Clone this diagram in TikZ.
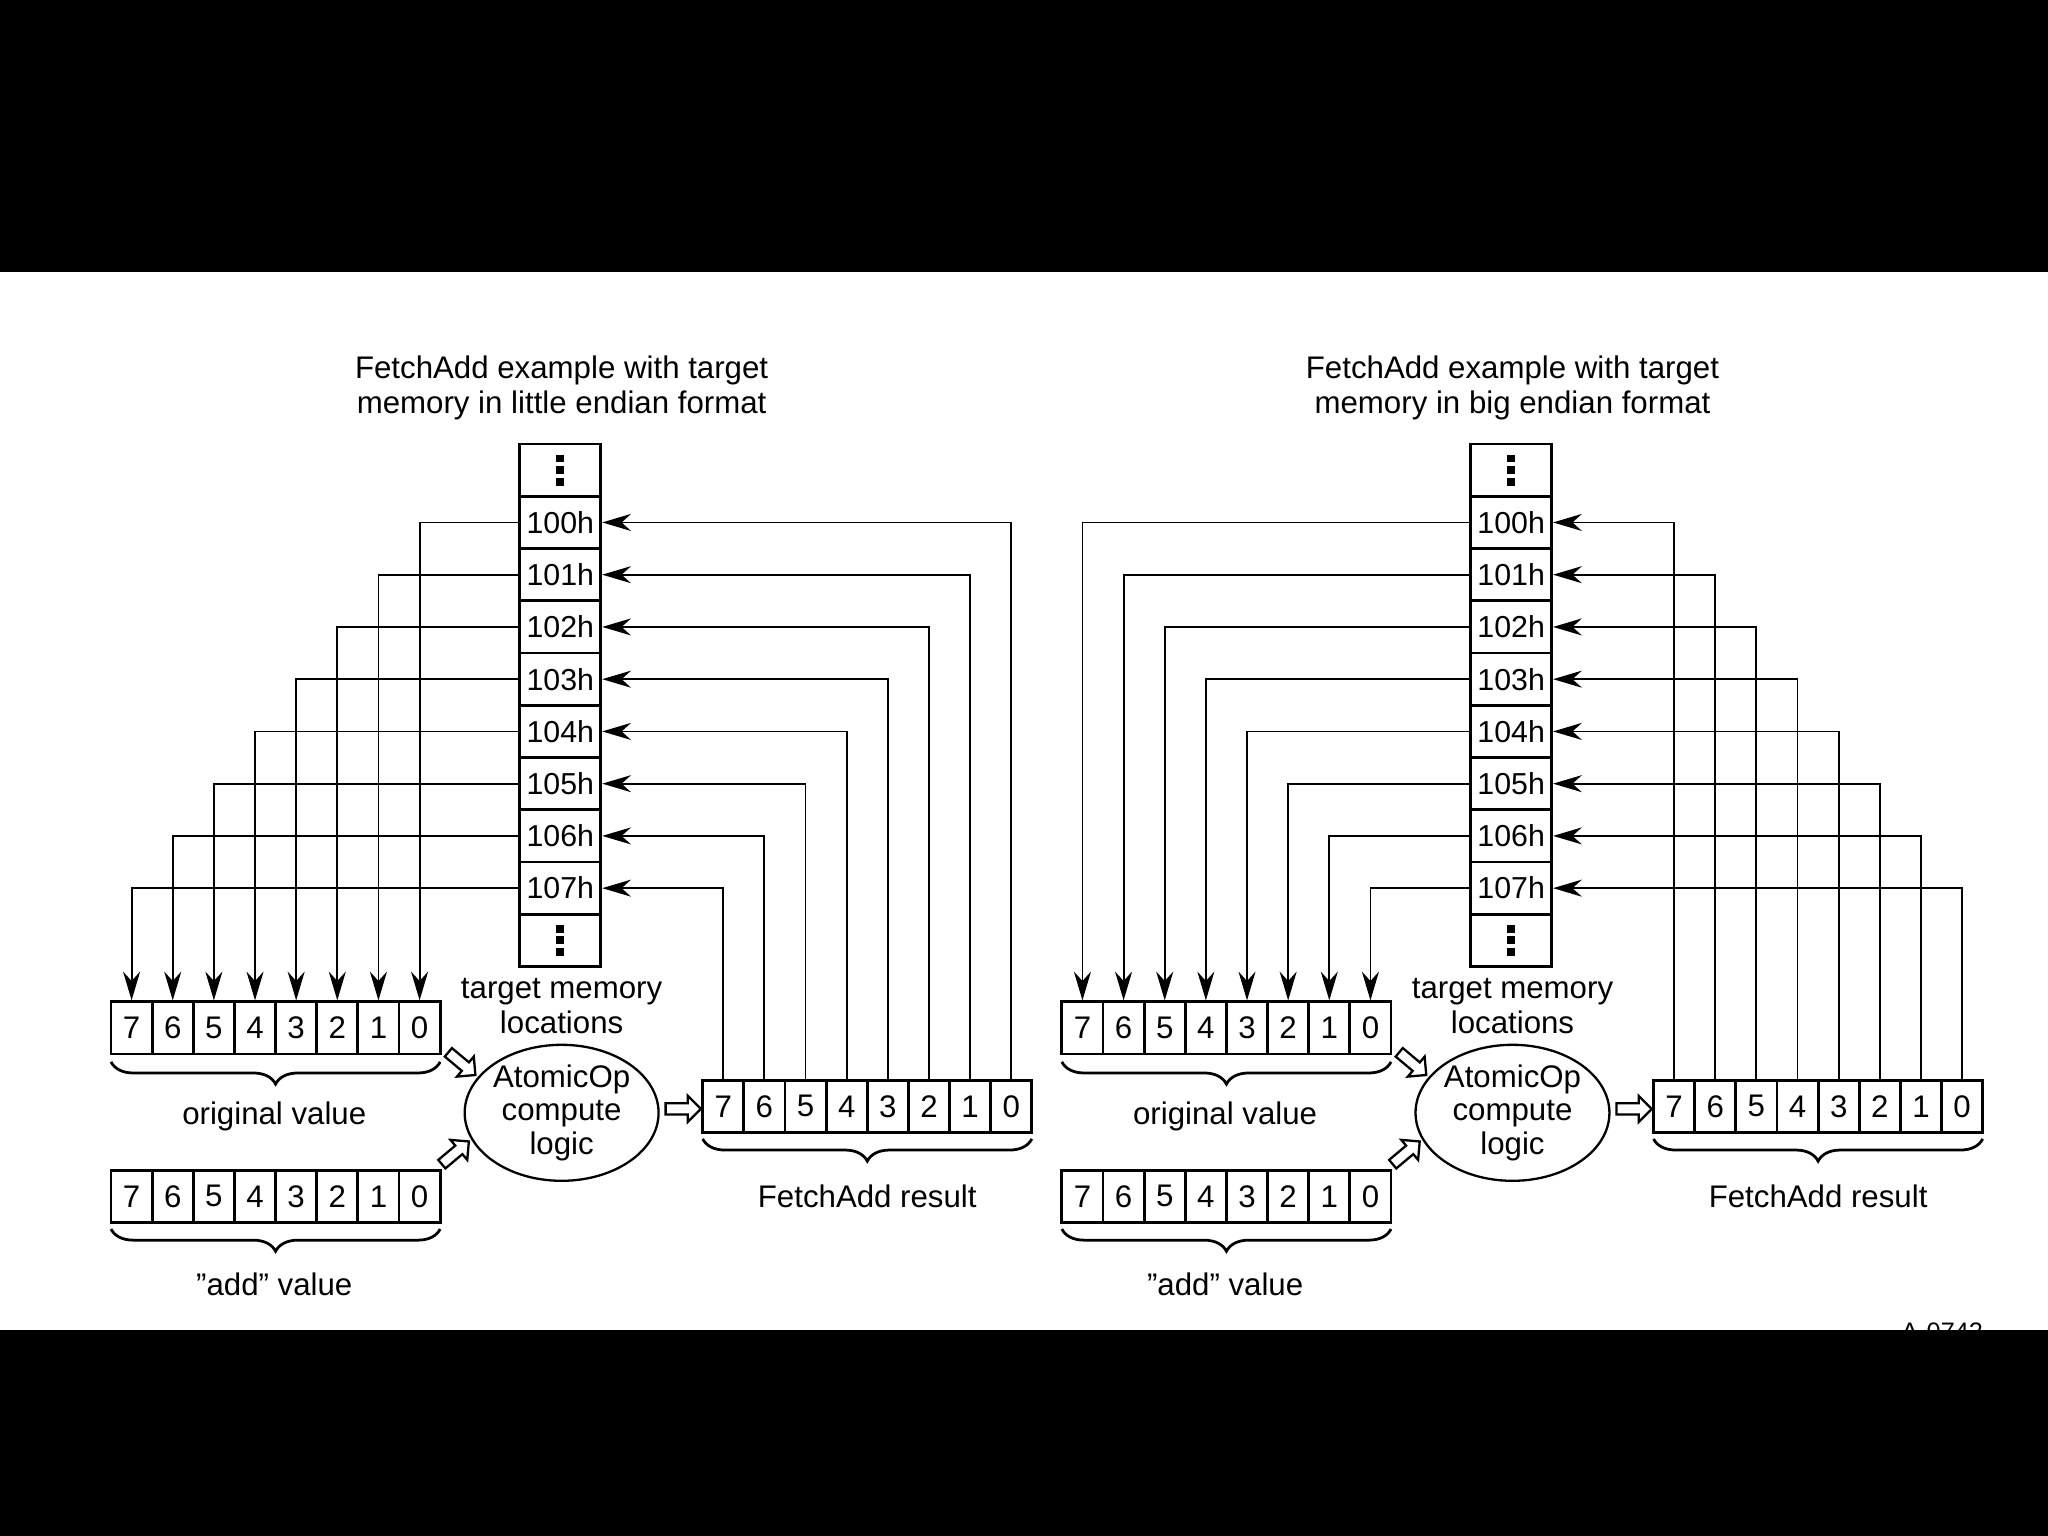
\documentclass[tikz,border=0pt]{standalone}
\usepackage{fontspec}
\setmainfont{Liberation Sans}
\usetikzlibrary{shapes.geometric,shapes.arrows,decorations.pathreplacing,arrows.meta,calc}
\tikzset{
  txt/.style={font=\fontsize{6.8}{7.6}\selectfont, align=center, inner sep=0pt},
  bytecell/.style={draw, line width=0.6pt, minimum width=0.315cm, minimum height=0.4cm, inner sep=0pt, font=\fontsize{6.8}{8}\selectfont},
  memcell/.style={draw, line width=0.6pt, minimum width=0.62cm, minimum height=0.4cm, inner sep=0pt, font=\fontsize{6.6}{8}\selectfont},
  conn/.style={line width=0.4pt, -{Stealth[length=2.2mm,width=1.3mm]}},
  brc/.style={decorate, decoration={brace, mirror, amplitude=0.17cm}, line width=0.6pt},
  hollow/.style={single arrow, draw, fill=white, line width=0.5pt, minimum height=0.27cm, minimum width=0.2cm, single arrow head extend=0.05cm, single arrow tip angle=90, inner sep=0.8pt},
  logic/.style={ellipse, draw, line width=0.5pt, minimum width=1.46cm, minimum height=1.04cm, inner sep=0pt, font=\fontsize{6.8}{7.3}\selectfont, align=center}
}
\newcommand{\dotsq}[1]{%
  \foreach \dy in {-9,0,9} \fill ($(#1)+(-3,\dy-3)$) rectangle ($(#1)+(3,\dy+3)$);}
\begin{document}
\begin{tikzpicture}[x=0.01cm,y=-0.01cm]
\fill[black] (0,0) rectangle (1568,1176);
\fill[white] (0,208) rectangle (1568,1018);
\useasboundingbox (0,0) rectangle (1568,1176);
\foreach \S/\ox in {L/0,R/728}{
  \node[txt] (\S title) at (430+\ox,297) {FetchAdd example with target\\memory in \ifnum\ox=0 little\else big\fi\ endian format};
  \node[memcell] (\S top) at (429+\ox,360) {};
  \node[memcell] (\S bot) at (429+\ox,720) {};
  \dotsq{\S top}
  \dotsq{\S bot}
  \foreach \i in {0,...,7}{
    \node[memcell] (\S m\i) at (429+\ox,400+40*\i) {10\i h};
  }
  \node[txt] (\S tml) at (430+\ox,770) {target memory\\locations};
  \foreach \d in {0,...,7}{
    \node[bytecell] (\S o\d) at ({100.75+31.5*(7-\d)+\ox},787) {\d};
    \node[bytecell] (\S a\d) at ({100.75+31.5*(7-\d)+\ox},916) {\d};
    \node[bytecell] (\S r\d) at ({553.75+31.5*(7-\d)+\ox},847) {\d};
  }
  \draw[brc] (85+\ox,813) -- (337+\ox,813);
  \node[txt] (\S ol) at (210+\ox,855) {original value};
  \draw[brc] (85+\ox,941) -- (337+\ox,941);
  \node[txt] (\S al) at (210+\ox,983) {\symbol{34}add\symbol{34} value};
  \draw[brc] (538+\ox,872) -- (790+\ox,872);
  \node[txt] (\S rl) at (664+\ox,916) {FetchAdd result};
  \node[logic] (\S logic) at (430+\ox,852) {AtomicOp\\compute\\logic};
  \node[hollow, rotate=-40] (\S h1) at (352+\ox,813) {};
  \node[hollow, rotate=40] (\S h2) at (347+\ox,884) {};
  \node[hollow] (\S h3) at (521+\ox,849) {};
}
\foreach \i in {0,...,7}{
  \draw[conn] (Lm\i.west) -| (Lo\i.north);
  \draw[conn] (Lr\i.north) |- (Lm\i.east);
}
\foreach \i [evaluate=\i as \j using int(7-\i)] in {0,...,7}{
  \draw[conn] (Rm\i.west) -| (Ro\j.north);
  \draw[conn] (Rr\j.north) |- (Rm\i.east);
}
\node[txt, font=\fontsize{5.5}{6}\selectfont] (code) at (1487,1020) {A-0742};
\fill[black] (0,1018) rectangle (1568,1176);
\end{tikzpicture}
\end{document}
